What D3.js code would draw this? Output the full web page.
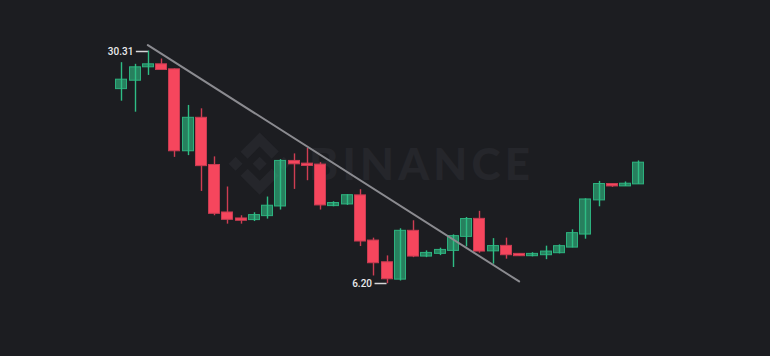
<!DOCTYPE html>
<html>
<head>
<meta charset="utf-8">
<script src="https://cdn.jsdelivr.net/npm/d3@7"></script>
<style>
  html, body { margin: 0; padding: 0; background: #1c1d21; }
  svg { display: block; }
</style>
</head>
<body>
<script>
// OHLC series, one entry per candle (oldest first)
const opens  = [26.36, 27.23, 28.62, 28.93, 28.41, 19.92, 23.39, 18.50, 13.58, 12.96,
                12.79, 13.20, 14.20, 18.92, 18.64, 18.54, 14.24, 14.41, 15.35, 10.67,
                 8.42,  6.62, 11.68,  9.01,  9.29,  9.60, 11.05, 12.92,  9.55, 10.12,
                 9.29,  9.05,  9.15,  9.36,  9.94, 11.29, 14.83, 16.53, 16.28, 16.49];
const highs  = [29.10, 28.93, 30.31, 29.48, 28.45, 24.67, 24.32, 19.34, 16.22, 13.24,
                13.55, 15.18, 19.06, 19.65, 20.23, 18.74, 14.69, 15.42, 15.94, 10.92,
                 9.08, 11.89, 12.72,  9.60,  9.88, 11.26, 13.06, 13.70, 10.87, 10.92,
                 9.31,  9.41, 10.09, 10.22, 11.78, 15.00, 16.80, 16.53, 16.74, 18.92];
const lows   = [25.11, 23.97, 27.78, 28.30, 19.29, 19.47, 15.76, 13.24, 12.37, 12.37,
                12.64, 12.89, 13.83, 15.97, 16.87, 13.83, 14.17, 14.31, 10.05,  7.00,
                 6.20,  6.48,  8.90,  8.90,  9.11,  7.88, 10.01,  9.36,  8.22,  8.74,
                 9.02,  8.98,  8.69,  9.29,  9.91, 10.81, 14.17, 16.18, 16.28, 16.49];
const closes = [27.34, 28.62, 28.93, 28.34, 19.92, 23.39, 18.38, 13.44, 12.82, 12.72,
                13.31, 14.28, 18.92, 18.57, 18.40, 14.31, 14.56, 15.37, 10.57,  8.32,
                 6.66, 11.68,  9.01,  9.39,  9.70, 11.13, 12.90,  9.53, 10.10,  9.15,
                 9.05,  9.29,  9.53, 10.09, 11.44, 14.93, 16.53, 16.28, 16.56, 18.74];

// Descending trend line anchors: candle index and price
const trendIndex = [2, 30];
const trendPrice = [30.87, 6.38];

const W = 770, H = 356;
const BG = "#1c1d21";
const UP = "#2ebd85", DOWN = "#f6465d";

const candles = opens.map((o, i) => ({ i, o, h: highs[i], l: lows[i], c: closes[i] }));

const svg = d3.select("body").append("svg")
  .attr("width", W).attr("height", H);

svg.append("rect").attr("width", W).attr("height", H).attr("fill", BG);

const x = d3.scaleBand()
  .domain(d3.range(candles.length))
  .range([114.7, 645.1])
  .paddingInner(0.12)
  .paddingOuter(0.06);

const y = d3.scaleLinear()
  .domain([d3.min(lows), d3.max(highs)])
  .range([283.2, 50.5]);

const cx = i => x(i) + x.bandwidth() / 2;

// Watermark: exchange logo + wordmark
const mark = svg.append("g").attr("fill", "#25262b");
mark.append("path")
  .attr("transform", "translate(228.5,132.5) scale(2.6)")
  .attr("d", "M16.624 13.9202l2.7175 2.7154-7.353 7.353-7.353-7.352 2.7175-2.7164 4.6355 4.6595 4.6356-4.6595zm4.6366-4.6366L24 12l-2.7154 2.7164L18.5682 12l2.6924-2.7164zm-9.272.001l2.7163 2.6914-2.7164 2.7174v-.001L9.2721 12l2.7164-2.7154zm-9.2722-.001L5.4088 12l-2.6914 2.6924L0 12l2.7164-2.7164zM11.9885.0115l7.353 7.329-2.7174 2.7154-4.6356-4.6356-4.6355 4.6595-2.7174-2.7154 7.353-7.353z");
mark.append("text")
  .attr("x", 309).attr("y", 180)
  .attr("font-family", "Lato, 'Noto Sans', sans-serif")
  .attr("font-weight", 900)
  .attr("font-size", 44)
  .attr("textLength", 221)
  .attr("lengthAdjust", "spacing")
  .text("BINANCE");

// Candles
const g = svg.append("g");
const bw = Math.round(x.bandwidth());

const item = g.selectAll("g.candle").data(candles).join("g").attr("class", "candle");

item.append("line")
  .attr("x1", d => Math.round(cx(d.i)) + 0.5)
  .attr("x2", d => Math.round(cx(d.i)) + 0.5)
  .attr("y1", d => y(d.h))
  .attr("y2", d => y(d.l))
  .attr("stroke", d => d.c >= d.o ? UP : "#cf3d53")
  .attr("stroke-width", 1.4);

item.append("rect")
  .attr("x", d => Math.round(cx(d.i) - bw / 2) + 0.5)
  .attr("width", bw - 1)
  .attr("y", d => y(Math.max(d.o, d.c)))
  .attr("height", d => Math.max(1.5, Math.abs(y(d.o) - y(d.c))))
  .attr("fill", d => d.c >= d.o ? "rgba(46,189,133,0.62)" : DOWN)
  .attr("stroke", d => d.c >= d.o ? "rgba(46,189,133,0.9)" : "#c93c52")
  .attr("stroke-width", 1);

// High / low markers
const hiIdx = d3.maxIndex(highs), loIdx = d3.minIndex(lows);
const markers = [
  { i: hiIdx, v: highs[hiIdx] },
  { i: loIdx, v: lows[loIdx] }
];
const mg = svg.append("g");
markers.forEach(m => {
  const px = cx(m.i), py = Math.round(y(m.v)) + 0.5;
  mg.append("line")
    .attr("x1", px - 12).attr("x2", px)
    .attr("y1", py).attr("y2", py)
    .attr("stroke", "#d6d6d8").attr("stroke-width", 1.5);
  mg.append("text")
    .attr("x", px - 14.5).attr("y", py)
    .attr("dy", "0.36em")
    .attr("text-anchor", "end")
    .attr("font-family", "Roboto, 'Noto Sans', sans-serif")
    .attr("font-weight", 500)
    .attr("font-size", 10)
    .attr("fill", "#eaeaec")
    .text(m.v.toFixed(2));
});

// Trend line
svg.append("line")
  .attr("x1", cx(trendIndex[0])).attr("y1", y(trendPrice[0]))
  .attr("x2", cx(trendIndex[1])).attr("y2", y(trendPrice[1]))
  .attr("stroke", "#8b8b90")
  .attr("stroke-width", 2)
  .attr("stroke-linecap", "round");
</script>
</body>
</html>
